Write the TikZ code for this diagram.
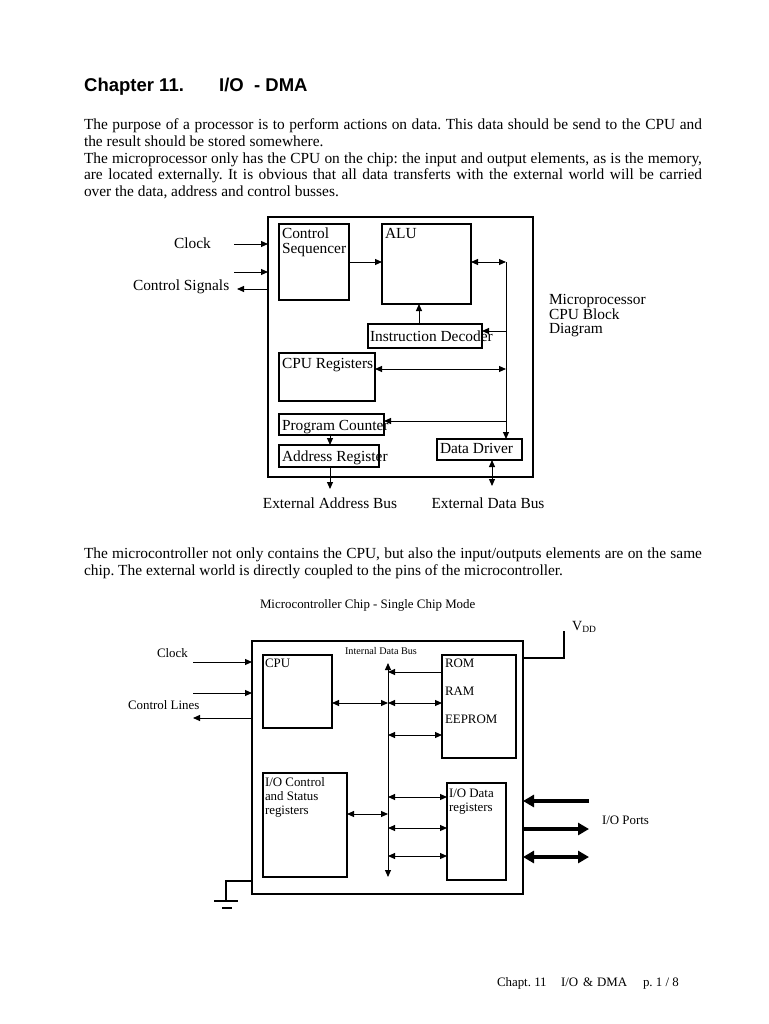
\documentclass[tikz,border=0pt]{standalone}
\usepackage{fontspec}
\setmainfont{Liberation Serif}
\newfontfamily\headfont{Liberation Sans}
\usetikzlibrary{arrows.meta}
\frenchspacing
\tikzset{
  box/.style={draw, line width=1.1pt, inner sep=0pt, outer sep=0pt, anchor=north west},
  txt/.style={inner sep=0pt, outer sep=0pt, anchor=base west, font=\fontsize{15.4}{17}\selectfont},
  stxt/.style={inner sep=0pt, outer sep=0pt, anchor=base west, font=\fontsize{12.9}{14}\selectfont},
  tiny/.style={inner sep=0pt, outer sep=0pt, anchor=base west, font=\fontsize{10.2}{12}\selectfont},
  arr/.style={-{Triangle[length=7pt,width=6pt]}, line width=1pt},
  darr/.style={{Triangle[length=7pt,width=6pt]}-{Triangle[length=7pt,width=6pt]}, line width=1pt},
  wire/.style={line width=1.1pt},
  port/.style={line width=4pt, -{Triangle[length=11pt,width=12pt]}},
  dport/.style={line width=4pt, {Triangle[length=11pt,width=12pt]}-{Triangle[length=11pt,width=12pt]}},
}
\newcommand{\jline}[1]{\makebox[618pt][s]{#1}}
\begin{document}
\begin{tikzpicture}[x=1pt,y=-1pt]
\useasboundingbox[fill=white] (0,0) rectangle (768,1024);

% ---------- heading and text ----------
\node[inner sep=0pt, anchor=base west, font=\headfont\bfseries\fontsize{18.5}{20}\selectfont] (h1) at (84,92) {Chapter 11.};
\node[inner sep=0pt, anchor=base west, font=\headfont\bfseries\fontsize{18.5}{20}\selectfont] (h2) at (219,92) {I/O\ \ - DMA};

\node[txt] (l1) at (84,130) {\jline{The purpose of a processor is to perform actions on data. This data should be send to the CPU and}};
\node[txt] (l2) at (84,147) {the result should be stored somewhere.};
\node[txt] (l3) at (84,164) {\jline{The microprocessor only has the CPU on the chip: the input and output elements, as is the memory,}};
\node[txt] (l4) at (84,180) {\jline{are located externally. It is obvious that all data transferts with the external world will be carried}};
\node[txt] (l5) at (84,197) {over the data, address and control busses.};

\node[txt] (l6) at (84,558) {\jline{The microcontroller not only contains the CPU, but also the input/outputs elements are on the same}};
\node[txt] (l7) at (84,575) {chip. The external world is directly coupled to the pins of the microcontroller.};

% ---------- microprocessor diagram ----------
\node[box, line width=1.3pt, minimum width=265, minimum height=260] (mp) at (268,217) {};
\node[box, minimum width=70, minimum height=76] (cs) at (279,224) {};
\node[box, minimum width=89, minimum height=80] (alu) at (382,224) {};
\node[box, line width=2pt, minimum width=114, minimum height=24] (idec) at (368,324) {};
\node[box, minimum width=96, minimum height=48] (creg) at (279,353) {};
\node[box, minimum width=105, minimum height=21] (pc) at (279,414) {};
\node[box, minimum width=100, minimum height=22] (areg) at (279,445) {};
\node[box, minimum width=85, minimum height=21] (ddrv) at (437,439) {};

\node[txt] (tcs1) at (282,239) {Control};
\node[txt] (tcs2) at (282,253) {Sequencer};
\node[txt] (talu) at (385,239) {ALU};
\node[txt] (tid) at (370,341) {Instruction Decoder};
\node[txt] (tcr) at (282,368) {CPU Registers};
\node[txt] (tpc) at (282,430) {Program Counter};
\node[txt] (tar) at (282,461) {Address Register};
\node[txt] (tdd) at (440,453) {Data Driver};
\node[txt, anchor=base] (teab) at (330,508) {External Address Bus};
\node[txt, anchor=base] (tedb) at (488,508) {External Data Bus};
\node[txt] (tclk) at (174,248) {Clock};
\node[txt] (tcsig) at (133,290) {Control Signals};
\node[txt] (tmp1) at (549,304) {Microprocessor};
\node[txt] (tmp2) at (549,319) {CPU Block};
\node[txt] (tmp3) at (549,333) {Diagram};

\coordinate (busT) at (506,262);
\coordinate (b1) at (506,331);
\coordinate (b2) at (506,369);
\coordinate (b3) at (506,421);
\coordinate (eab) at (330,489);
\coordinate (dd1) at (492,460);
\coordinate (dd2) at (492,486);
\coordinate (ck1) at (234,244);
\coordinate (ck2) at (234,272);
\coordinate (ck3) at (237,289);

\draw[arr] (cs.east |- busT) -- (alu.west |- busT);
\draw[darr] (alu.east |- busT) -- (busT);
\draw[arr] (busT) -- (busT |- ddrv.north);
\draw[arr] (b1) -- (b1 -| idec.east);
\draw[arr] ([xshift=-6pt]idec.north) -- ([xshift=-6pt]idec.north |- alu.south);
\draw[darr] (b2 -| creg.east) -- (b2);
\draw[arr] (b3) -- (b3 -| pc.east);
\draw[arr] (pc.south -| eab) -- (areg.north -| eab);
\draw[arr] (areg.south -| eab) -- (eab);
\draw[darr] (dd1) -- (dd2);
\draw[arr] (ck1) -- (ck1 -| mp.west);
\draw[arr] (ck2) -- (ck2 -| mp.west);
\draw[arr] (ck3 -| mp.west) -- (ck3);

% ---------- microcontroller diagram ----------
\node[stxt] (tmc) at (260,608) {Microcontroller Chip - Single Chip Mode};
\node[box, line width=1.3pt, minimum width=271, minimum height=253] (mcu) at (252,641) {};
\node[box, minimum width=69, minimum height=73] (cpu) at (263,655) {};
\node[box, minimum width=74, minimum height=103] (mem) at (442,655) {};
\node[box, minimum width=84, minimum height=104] (ioc) at (263,773) {};
\node[box, minimum width=59, minimum height=97] (iod) at (447,783) {};

\node[tiny] (tidb) at (345,654) {Internal Data Bus};
\node[stxt] (tcpu) at (265,667) {CPU};
\node[stxt] (trom) at (445,667) {ROM};
\node[stxt] (tram) at (445,695) {RAM};
\node[stxt] (teep) at (445,723) {EEPROM};
\node[stxt] (tioc1) at (265,786) {I/O Control};
\node[stxt] (tioc2) at (265,800) {and Status};
\node[stxt] (tioc3) at (265,814) {registers};
\node[stxt] (tiod1) at (449,797) {I/O Data};
\node[stxt] (tiod2) at (449,811) {registers};
\node[stxt] (tport) at (602,824) {I/O Ports};
\node[stxt] (tclk2) at (157,657) {Clock};
\node[stxt] (tcl) at (128,709) {Control Lines};
\node[inner sep=0pt, anchor=base west, font=\fontsize{14}{16}\selectfont] (tvdd) at (572,630) {V\raisebox{-0.35ex}{\fontsize{9.5}{10}\selectfont DD}};

\coordinate (busT2) at (388,663);
\coordinate (busB2) at (388,877);
\coordinate (r1) at (388,672);
\coordinate (r2) at (388,703);
\coordinate (r3) at (388,735);
\coordinate (r4) at (388,814);
\coordinate (r5) at (388,797);
\coordinate (r6) at (388,828);
\coordinate (r7) at (388,856);
\coordinate (c1) at (193,662);
\coordinate (c2) at (193,693);
\coordinate (c3) at (193,718);
\coordinate (vdd1) at (564,658);
\coordinate (vdd2) at (564,631);
\coordinate (g1) at (226,881);
\coordinate (g2) at (226,901);
\coordinate (gl) at (214,901);
\coordinate (gr) at (238,901);
\coordinate (gm1) at (222,908);
\coordinate (gm2) at (232,908);
\coordinate (p1) at (589,801);
\coordinate (p2) at (589,829);
\coordinate (p3) at (589,857);

\draw[darr] (busB2) -- (busT2);
\draw[arr] (r1 -| mem.west) -- (r1);
\draw[darr] (r2 -| cpu.east) -- (r2);
\draw[darr] (r2) -- (r2 -| mem.west);
\draw[darr] (r3) -- (r3 -| mem.west);
\draw[darr] (r4 -| ioc.east) -- (r4);
\draw[darr] (r5) -- (r5 -| iod.west);
\draw[darr] (r6) -- (r6 -| iod.west);
\draw[darr] (r7) -- (r7 -| iod.west);
\draw[arr] (c1) -- (c1 -| mcu.west);
\draw[arr] (c2) -- (c2 -| mcu.west);
\draw[arr] (c3 -| mcu.west) -- (c3);
\draw[wire, line width=1.5pt] (vdd1 -| mcu.east) -- (vdd1) -- (vdd2);
\draw[wire] (g1 -| mcu.west) -- (g1) -- (g2);
\draw[wire, line width=1.5pt] (gl) -- (gr);
\draw[wire] (gm1) -- (gm2);
\draw[port] (p1) -- (p1 -| mcu.east);
\draw[port] (p2 -| mcu.east) -- (p2);
\draw[dport] (p3 -| mcu.east) -- (p3);

% ---------- footer ----------
\node[stxt] (f1) at (497,986) {Chapt. 11};
\node[stxt] (f2) at (561,986) {I/O};
\node[stxt] (f3) at (583,986) {\&};
\node[stxt] (f4) at (597,986) {DMA};
\node[stxt] (f5) at (643,986) {p. 1 / 8};
\end{tikzpicture}
\end{document}
